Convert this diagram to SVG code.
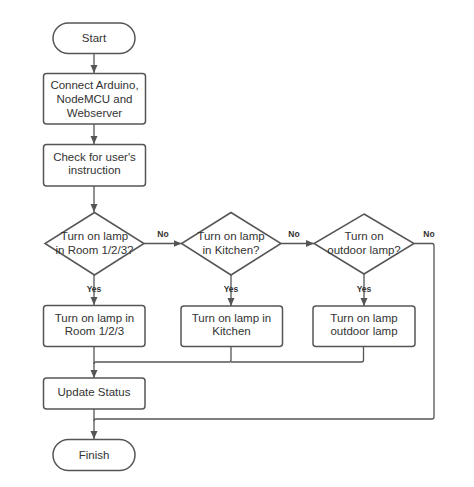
<svg xmlns="http://www.w3.org/2000/svg" width="474" height="487" viewBox="0 0 474 487">
<defs>
<marker id="arr" viewBox="0 0 8 8" refX="8" refY="4" markerWidth="8" markerHeight="8" markerUnits="userSpaceOnUse" orient="auto">
<path d="M0,0.5 L8,4 L0,7.5 Z" fill="#555"/>
</marker>
</defs>
<style>
.n{fill:#fff;stroke:#555;stroke-width:1.5}
.t{font-family:"Liberation Sans",Arial,sans-serif;font-size:11.5px;fill:#333;text-anchor:middle}
.l{font-family:"Liberation Sans",Arial,sans-serif;font-size:8.5px;font-weight:bold;fill:#333;text-anchor:middle}
.c{fill:none;stroke:#555;stroke-width:1.3}
</style>
<rect width="474" height="487" fill="#fff"/>
<g id="connectors">
<path class="c" d="M94,53 V73" marker-end="url(#arr)"/>
<path class="c" d="M94,124 V144" marker-end="url(#arr)"/>
<path class="c" d="M94,186 V212" marker-end="url(#arr)"/>
<path class="c" d="M144,243.5 H181.5" marker-end="url(#arr)"/>
<path class="c" d="M281,243.5 H314" marker-end="url(#arr)"/>
<path class="c" d="M94,275 V305" marker-end="url(#arr)"/>
<path class="c" d="M231,275 V306" marker-end="url(#arr)"/>
<path class="c" d="M364,274 V306" marker-end="url(#arr)"/>
<path class="c" d="M94,347 V378" marker-end="url(#arr)"/>
<path class="c" d="M231,347 V360 Q231,362 229,362 H96 Q94,362 94,364"/>
<path class="c" d="M363.5,347 V360 Q363.5,362 361.5,362 H231"/>
<path class="c" d="M94,409 V439" marker-end="url(#arr)"/>
<path class="c" d="M414,243.5 H432 Q434,243.5 434,245.5 V417 Q434,419 432,419 H96 Q94,419 94,421"/>
<text class="l" x="163" y="237">No</text>
<text class="l" x="294" y="237">No</text>
<text class="l" x="429" y="237">No</text>
<text class="l" x="94" y="292">Yes</text>
<text class="l" x="231" y="292">Yes</text>
<text class="l" x="364" y="292">Yes</text>
</g>
<g id="start">
<rect class="n" x="53" y="23" width="82" height="30.5" rx="15.25"/>
<text class="t" x="94" y="42">Start</text>
</g>
<g id="connect">
<rect class="n" x="43.5" y="73.5" width="102" height="50.5" rx="3"/>
<text class="t" x="94.5" y="89">Connect Arduino,</text>
<text class="t" x="94.5" y="103">NodeMCU and</text>
<text class="t" x="94.5" y="117">Webserver</text>
</g>
<g id="check">
<rect class="n" x="43.5" y="144.5" width="102" height="41.5" rx="3"/>
<text class="t" x="94.5" y="161">Check for user's</text>
<text class="t" x="94.5" y="174">instruction</text>
</g>
<g id="d1">
<path class="n" d="M94.5,212.5 L144,243.5 L94.5,275 L45,243.5 Z"/>
<text class="t" x="94.5" y="240">Turn on lamp</text>
<text class="t" x="94.5" y="254">in Room 1/2/3?</text>
</g>
<g id="d2">
<path class="n" d="M231,212.5 L281,243.5 L231,275 L181.5,243.5 Z"/>
<text class="t" x="231" y="240">Turn on lamp</text>
<text class="t" x="231" y="254">in Kitchen?</text>
</g>
<g id="d3">
<path class="n" d="M364,214 L414,243.5 L364,274 L314,243.5 Z"/>
<text class="t" x="364" y="240">Turn on</text>
<text class="t" x="364" y="254">outdoor lamp?</text>
</g>
<g id="room">
<rect class="n" x="43.5" y="305.5" width="101.5" height="41" rx="3"/>
<text class="t" x="94.5" y="321.5">Turn on lamp in</text>
<text class="t" x="94.5" y="335">Room 1/2/3</text>
</g>
<g id="kitchen">
<rect class="n" x="181" y="306" width="101.5" height="40.5" rx="3"/>
<text class="t" x="231.5" y="321.5">Turn on lamp in</text>
<text class="t" x="231.5" y="335">Kitchen</text>
</g>
<g id="outdoor">
<rect class="n" x="313" y="306" width="102" height="40.5" rx="3"/>
<text class="t" x="364" y="321.5">Turn on lamp</text>
<text class="t" x="364" y="335">outdoor lamp</text>
</g>
<g id="update">
<rect class="n" x="43.5" y="378" width="101.5" height="31" rx="3"/>
<text class="t" x="94" y="396">Update Status</text>
</g>
<g id="finish">
<rect class="n" x="53" y="439.5" width="82" height="31" rx="15.5"/>
<text class="t" x="94" y="458.5">Finish</text>
</g>
</svg>
